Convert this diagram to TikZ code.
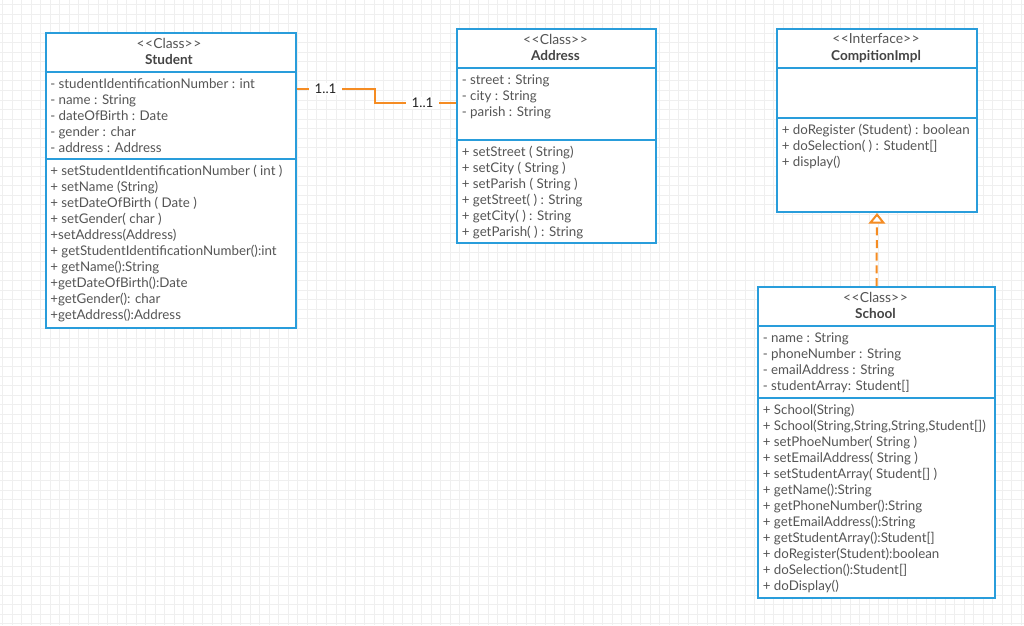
\documentclass[tikz,border=0pt]{standalone}
\usepackage{fontspec}
\setmainfont{Lato}
\usetikzlibrary{arrows.meta}
\definecolor{umlblue}{RGB}{41,157,219}
\definecolor{umlorange}{RGB}{245,140,35}
\definecolor{memgray}{RGB}{85,85,85}
\definecolor{headgray}{RGB}{68,68,68}
\definecolor{gridc}{RGB}{239,239,239}
\newlength\pxu
\setlength\pxu{0.75pt}
\newcommand\stereo[1]{<\kern0.4pt<#1>\kern0.4pt>}
\newcommand\memberlist[4]{\foreach \t [count=\i] in {#4} {\node[member] (#1\i) at (#2,{#3+16*(\i-1)}) {\t};}}
\begin{document}
\begin{tikzpicture}[x=0.75pt, y=-0.75pt,
  gridline/.style={gridc, line width=0.6pt},
  member/.style={anchor=west, inner sep=0pt, text height=7.2pt, text depth=0pt, font=\fontsize{10pt}{12pt}\selectfont, text=memgray},
  umlbox/.style={draw=umlblue, line width=1.5pt, fill=white, anchor=north west, inner sep=0pt},
  divider/.style={umlblue, line width=1.5pt},
  stereotype/.style={inner sep=0pt, text height=7.2pt, text depth=0pt, font=\fontsize{10.4pt}{12pt}\selectfont, text=memgray},
  classname/.style={inner sep=0pt, text height=7.2pt, text depth=0pt, font=\fontsize{10.2pt}{12pt}\selectfont\bfseries, text=headgray},
  assoc/.style={umlorange, line width=1.5pt},
  mult/.style={fill=white, inner xsep=4pt, inner ysep=1pt, text=black!88, font=\fontsize{10pt}{12pt}\selectfont},
  realize/.style={umlorange, line width=1.5pt, dash pattern=on 6pt off 3.5pt, -{Triangle[open, length=8pt, width=12.5pt, fill=white]}}
]
\fill[white] (0,0) rectangle (1024,625);
\useasboundingbox (0,0) rectangle (1024,625);
\foreach \k in {0,...,107} {\draw[gridline] ({2.7+9.52*\k},0) -- ({2.7+9.52*\k},625);}
\foreach \k in {0,...,65} {\draw[gridline] (0,{4.7+9.52*\k}) -- (1024,{4.7+9.52*\k});}

% ---------- Student ----------
\node[umlbox, minimum width=250\pxu, minimum height=295\pxu] (student) at (45,32) {};
\draw[divider] (student.west |- 0,72) -- (student.east |- 0,72);
\draw[divider] (student.west |- 0,159) -- (student.east |- 0,159);
\node[stereotype] (studentst) at (169,44) {\stereo{Class}};
\node[classname] (studentnm) at (169,60) {Student};
\memberlist{sa}{50}{84}{- studentIdentificationNumber : int, - name : String, - dateOfBirth : Date, - gender : char, - address : Address}
\memberlist{sm}{50}{171}{+ setStudentIdentificationNumber ( int ), + setName (String), + setDateOfBirth ( Date ), + setGender( char ), +setAddress(Address), + getStudentIdentificationNumber():int, + getName():String, +getDateOfBirth():Date, +getGender(): char, +getAddress():Address}

% ---------- Address ----------
\node[umlbox, minimum width=199\pxu, minimum height=214\pxu] (address) at (456,28) {};
\draw[divider] (address.west |- 0,68) -- (address.east |- 0,68);
\draw[divider] (address.west |- 0,140) -- (address.east |- 0,140);
\node[stereotype] (addressst) at (555.5,39.5) {\stereo{Class}};
\node[classname] (addressnm) at (555.5,55.5) {Address};
\memberlist{aa}{461.5}{79.5}{- street : String, - city : String, - parish : String}
\memberlist{am}{461.5}{151.5}{+ setStreet ( String), + setCity ( String ), + setParish ( String ), + getStreet( ) : String, + getCity( ) : String, + getParish( ) : String}

% ---------- Interface ----------
\node[umlbox, minimum width=200\pxu, minimum height=183\pxu] (iface) at (776,28) {};
\draw[divider] (iface.west |- 0,68) -- (iface.east |- 0,68);
\draw[divider] (iface.west |- 0,118) -- (iface.east |- 0,118);
\node[stereotype] (ifacest) at (876,39) {\stereo{Interface}};
\node[classname] (ifacenm) at (876,55.5) {CompitionImpl};
\memberlist{im}{781.5}{129.5}{+ doRegister (Student) : boolean, + doSelection( ) : Student[], + display()}

% ---------- School ----------
\node[umlbox, minimum width=237\pxu, minimum height=311\pxu] (school) at (757,286) {};
\draw[divider] (school.west |- 0,326) -- (school.east |- 0,326);
\draw[divider] (school.west |- 0,397.5) -- (school.east |- 0,397.5);
\node[stereotype] (schoolst) at (875.5,297.5) {\stereo{Class}};
\node[classname] (schoolnm) at (875.5,313.5) {School};
\memberlist{ca}{762.5}{337.5}{- name : String, - phoneNumber : String, - emailAddress : String, - studentArray: Student[]}
\memberlist{cm}{762.5}{409.5}{+ School(String), {+ School(String,String,String,Student[])}, + setPhoeNumber( String ), + setEmailAddress( String ), + setStudentArray( Student[] ), + getName():String, + getPhoneNumber():String, + getEmailAddress():String, + getStudentArray():Student[], + doRegister(Student):boolean, + doSelection():Student[], + doDisplay()}

% ---------- Connectors ----------
\draw[assoc] (student.east |- 0,89) -- (375,89) -- (375,103) -- (address.west |- 0,103);
\node[mult] (mult1) at (325.5,89) {1..1};
\node[mult] (mult2) at (422.5,103) {1..1};
\draw[realize] (school.north) -- (iface.south);
\end{tikzpicture}
\end{document}
